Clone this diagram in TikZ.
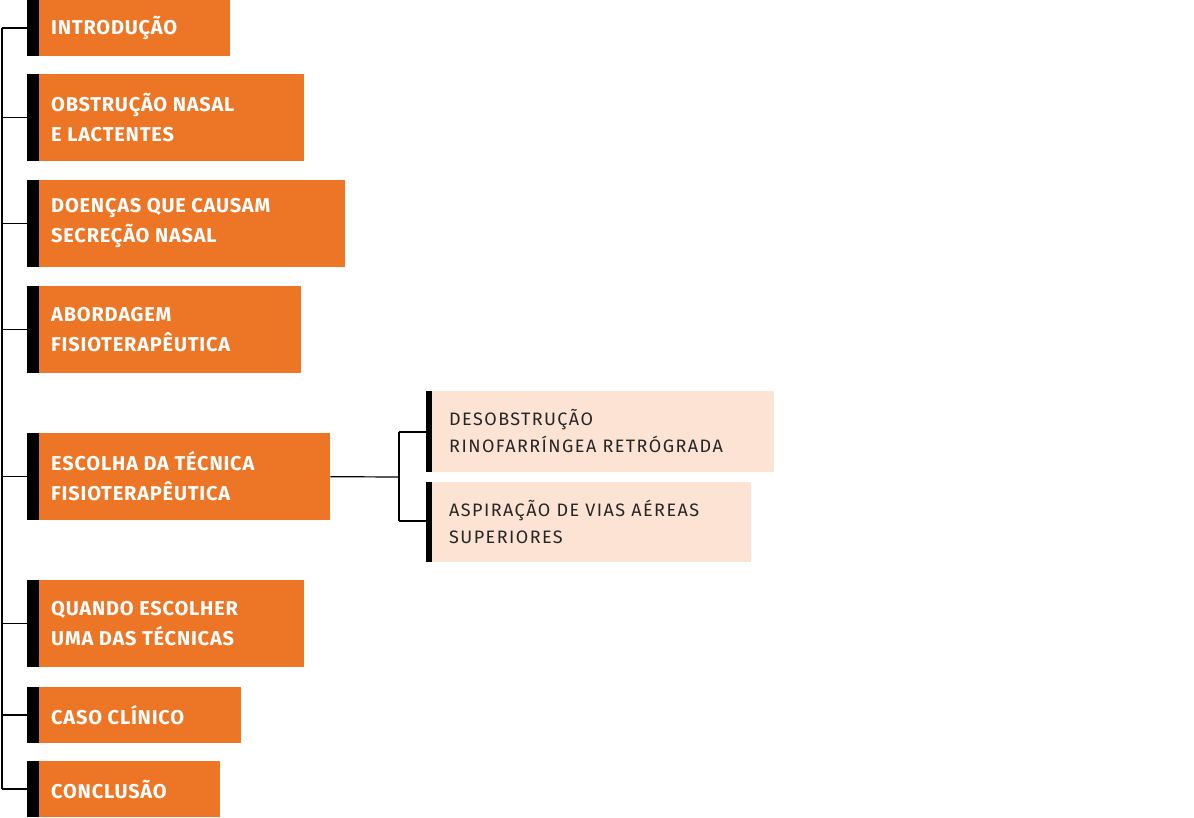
\documentclass[tikz,border=0pt]{standalone}
\usepackage{fontspec}
\setmainfont{Fira Sans}
\definecolor{org}{HTML}{EC7625}
\definecolor{lt}{HTML}{FDE3D3}
\begin{document}
\begin{tikzpicture}[x=1pt,y=-1pt,
  mainbox/.style={fill=org,inner sep=0,anchor=north west},
  subbox/.style={fill=lt,inner sep=0,anchor=north west},
  mtext/.style={anchor=west,text=white,font=\fontsize{20}{30}\selectfont\bfseries\addfontfeature{LetterSpace=4},align=left,inner sep=0},
  stext/.style={anchor=west,text=black!85,font=\fontsize{18}{27}\selectfont\addfontfeature{LetterSpace=8},align=left,inner sep=0},
  ln/.style={draw=black,line width=1.2pt}]
\useasboundingbox (0,0) rectangle (1194,818);
\newcommand\mybox[5]{% name, x2, y1, y2, text
  \node[mainbox,minimum width={#2-27},minimum height={#4-#3}] (#1) at (27,#3) {};
  \fill (27,#3) rectangle (39,#4);
  \node[mtext] (#1t) at (51,{(#3+#4)/2}) {#5};
  \coordinate (#1c) at (2,{(#3+#4)/2});
  \draw[ln] (#1c) -- (27,{(#3+#4)/2});}
\mybox{a}{230}{0}{56}{INTRODUÇÃO}
\mybox{b}{304}{74}{161}{OBSTRUÇÃO NASAL\\E LACTENTES}
\mybox{c}{345}{180}{267}{DOENÇAS QUE CAUSAM\\SECREÇÃO NASAL}
\mybox{d}{301}{286}{373}{ABORDAGEM\\FISIOTERAPÊUTICA}
\mybox{e}{330}{433}{520}{ESCOLHA DA TÉCNICA\\FISIOTERAPÊUTICA}
\mybox{f}{304}{580}{667}{QUANDO ESCOLHER\\UMA DAS TÉCNICAS}
\mybox{g}{241}{687}{743}{CASO CLÍNICO}
\mybox{h}{220}{761}{817}{CONCLUSÃO}
\draw[ln] (ac) -- (hc);
\node[subbox,minimum width=348,minimum height=81] (s1) at (426,391) {};
\fill (426,391) rectangle (432,472);
\node[stext] (s1t) at (449,431.5) {DESOBSTRUÇÃO\\RINOFARRÍNGEA RETRÓGRADA};
\node[subbox,minimum width=325,minimum height=80] (s2) at (426,482) {};
\fill (426,482) rectangle (432,562);
\node[stext] (s2t) at (449,522) {ASPIRAÇÃO DE VIAS AÉREAS\\SUPERIORES};
\coordinate (j) at (399,477);
\draw[ln] (e.east) -- (j);
\draw[ln] (399,432) -- (399,521);
\draw[ln] (399,432) -- (426,432);
\draw[ln] (399,521) -- (426,521);
\end{tikzpicture}
\end{document}
